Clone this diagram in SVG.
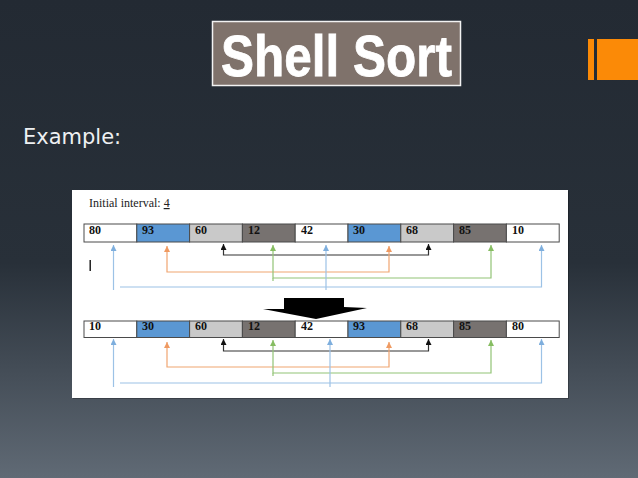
<svg xmlns="http://www.w3.org/2000/svg" width="638" height="478" viewBox="0 0 638 478">
<defs>
<linearGradient id="bg" x1="0" y1="0" x2="0" y2="1">
<stop offset="0" stop-color="#232a33"/>
<stop offset="0.55" stop-color="#283039"/>
<stop offset="1" stop-color="#606a75"/>
</linearGradient>
<marker id="mBlue" viewBox="0 0 6 6" refX="6" refY="3" markerWidth="6" markerHeight="6" markerUnits="userSpaceOnUse" orient="auto-start-reverse"><path d="M0,0 L6,3 L0,6 z" fill="#7eaedd"/></marker>
<marker id="mOrange" viewBox="0 0 6 6" refX="6" refY="3" markerWidth="6" markerHeight="6" markerUnits="userSpaceOnUse" orient="auto-start-reverse"><path d="M0,0 L6,3 L0,6 z" fill="#ef9a62"/></marker>
<marker id="mGreen" viewBox="0 0 6 6" refX="6" refY="3" markerWidth="6" markerHeight="6" markerUnits="userSpaceOnUse" orient="auto-start-reverse"><path d="M0,0 L6,3 L0,6 z" fill="#86bd62"/></marker>
<marker id="mBlack" viewBox="0 0 6 6" refX="6" refY="3" markerWidth="6" markerHeight="6" markerUnits="userSpaceOnUse" orient="auto-start-reverse"><path d="M0,0 L6,3 L0,6 z" fill="#111"/></marker>
<style>
.cell{stroke:#4a4a4a;stroke-width:1}
.w{fill:#ffffff}.b{fill:#5a97d3}.lg{fill:#c9c9c9}.dg{fill:#777270}
.v{font-family:"Liberation Serif",serif;font-weight:bold;font-size:12px;fill:#111}
.c{fill:none;stroke-width:1.2}
.cb{stroke:#9cc2e6}.co{stroke:#f0a571}.cg{stroke:#92c476}.ck{stroke:#333}
</style>
</defs>
<rect x="0" y="0" width="638" height="478" fill="url(#bg)"/>
<g id="accent">
<rect x="588" y="39" width="6" height="41" fill="#fb8a07"/>
<rect x="597" y="39" width="41" height="41" fill="#fb8a07"/>
</g>
<g id="title">
<rect x="212.5" y="21.5" width="248" height="64" fill="#7f726b" stroke="#f2f2f2" stroke-width="1.5"/>
<text x="221" y="76" font-family="Liberation Sans, Arial, sans-serif" font-weight="bold" font-size="57" fill="#ffffff" stroke="#ffffff" stroke-width="0.8" textLength="231" lengthAdjust="spacingAndGlyphs">Shell Sort</text>
</g>
<text id="example" x="23" y="144" font-family="DejaVu Sans, Verdana, sans-serif" font-size="21" fill="#eef0f2">Example:</text>
<g id="panel">
<rect x="73" y="191" width="496" height="208" fill="#000" opacity="0.25"/>
<rect x="72" y="190" width="496" height="208" fill="#ffffff"/>
<text x="89" y="207" font-family="Liberation Serif, serif" font-size="12" fill="#222">Initial interval: <tspan text-decoration="underline">4</tspan></text>
<rect x="89.5" y="260" width="1.4" height="11" fill="#111"/>
</g>
<g id="row1">
<rect class="cell w" x="84" y="224" width="52.8" height="18"/>
<rect class="cell b" x="136.8" y="224" width="52.8" height="18"/>
<rect class="cell lg" x="189.6" y="224" width="52.8" height="18"/>
<rect class="cell dg" x="242.4" y="224" width="52.8" height="18"/>
<rect class="cell w" x="295.2" y="224" width="52.8" height="18"/>
<rect class="cell b" x="348" y="224" width="52.8" height="18"/>
<rect class="cell lg" x="400.8" y="224" width="52.8" height="18"/>
<rect class="cell dg" x="453.6" y="224" width="52.8" height="18"/>
<rect class="cell w" x="506.4" y="224" width="52.8" height="18"/>
<text class="v" x="89" y="234">80</text>
<text class="v" x="142" y="234">93</text>
<text class="v" x="195" y="234">60</text>
<text class="v" x="248" y="234">12</text>
<text class="v" x="301" y="234">42</text>
<text class="v" x="353" y="234">30</text>
<text class="v" x="406" y="234">68</text>
<text class="v" x="459" y="234">85</text>
<text class="v" x="512" y="234">10</text>
</g>
<g id="arrow-down">
<polygon points="284,298 344,298 344,307 367,308 316,319 263,309 284,309" fill="#000"/>
</g>
<g id="row2">
<rect class="cell w" x="84" y="321" width="52.8" height="16.5"/>
<rect class="cell b" x="136.8" y="321" width="52.8" height="16.5"/>
<rect class="cell lg" x="189.6" y="321" width="52.8" height="16.5"/>
<rect class="cell dg" x="242.4" y="321" width="52.8" height="16.5"/>
<rect class="cell w" x="295.2" y="321" width="52.8" height="16.5"/>
<rect class="cell b" x="348" y="321" width="52.8" height="16.5"/>
<rect class="cell lg" x="400.8" y="321" width="52.8" height="16.5"/>
<rect class="cell dg" x="453.6" y="321" width="52.8" height="16.5"/>
<rect class="cell w" x="506.4" y="321" width="52.8" height="16.5"/>
<text class="v" x="89" y="330">10</text>
<text class="v" x="142" y="330">30</text>
<text class="v" x="195" y="330">60</text>
<text class="v" x="248" y="330">12</text>
<text class="v" x="301" y="330">42</text>
<text class="v" x="353" y="330">93</text>
<text class="v" x="406" y="330">68</text>
<text class="v" x="459" y="330">85</text>
<text class="v" x="512" y="330">80</text>
</g>
<g id="connectors">
<path class="c ck" d="M223.5,244 V255 H428.5 V244" marker-start="url(#mBlack)" marker-end="url(#mBlack)"/>
<path class="c co" d="M167,246 V272 H389 V246" marker-start="url(#mOrange)" marker-end="url(#mOrange)"/>
<path class="c cg" d="M273,245 V278 H491 V245" marker-start="url(#mGreen)" marker-end="url(#mGreen)"/>
<path class="c cg" d="M273,278 V281"/>
<path class="c cb" d="M113.5,290 V245" marker-end="url(#mBlue)"/>
<path class="c cb" d="M326,290 V245" marker-end="url(#mBlue)"/>
<path class="c cb" d="M120,287 H541.5 V245" marker-end="url(#mBlue)"/>
<path class="c ck" d="M223.5,339 V351 H428.5 V339" marker-start="url(#mBlack)" marker-end="url(#mBlack)"/>
<path class="c co" d="M167,342 V367 H389 V342" marker-start="url(#mOrange)" marker-end="url(#mOrange)"/>
<path class="c cg" d="M273,340 V373 H491 V340" marker-start="url(#mGreen)" marker-end="url(#mGreen)"/>
<path class="c cg" d="M273,373 V376"/>
<path class="c cb" d="M113.5,387 V339" marker-end="url(#mBlue)"/>
<path class="c cb" d="M330,387 V339" marker-end="url(#mBlue)"/>
<path class="c cb" d="M120,383 H541.5 V339" marker-end="url(#mBlue)"/>
</g>
</svg>
